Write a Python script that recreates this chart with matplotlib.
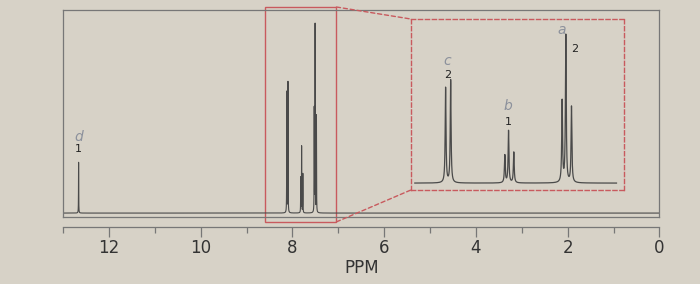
import numpy as np
import matplotlib.pyplot as plt
from matplotlib.patches import Rectangle, ConnectionPatch

# peak lines: chemical shift (ppm) and height
d_shift = [12.66]
d_height = [52]
c_shift = [8.122, 8.096]
c_height = [124, 134]
b_shift = [7.818, 7.799, 7.772]
b_height = [36, 68, 40]
a_shift = [7.524, 7.505, 7.476]
a_height = [106, 192, 99]

# handwritten letters and integrals written above each signal
group_names = ['d', 'c', 'b', 'a']
integrals = ['1', '2', '1', '2']

paper = '#d7d2c7'
ink = '#4a4a4a'
frame = '#777777'
red = '#c85a5e'
pencil = '#8c919c'

shifts = np.array(d_shift + c_shift + b_shift + a_shift)
heights = np.array(d_height + c_height + b_height + a_height)
hw = 0.0025  # lorentzian half width, ppm


def spectrum(x):
    y = np.zeros_like(x)
    for s, h in zip(shifts, heights):
        y += h / (1 + ((x - s) / hw) ** 2)
    return y


x = np.linspace(13.0, 0.0, 60000)
y = spectrum(x)

fig = plt.figure(figsize=(7, 2.84), dpi=100, facecolor=paper)
ax = fig.add_axes([0.090, 0.236, 0.852, 0.729], facecolor=paper)
ax.plot(x, y, color=ink, lw=0.8)
ax.set_xlim(13.0, 0.0)
ax.set_ylim(-4, 208)
ax.tick_params(bottom=False, labelbottom=False, left=False, labelleft=False)
for sp in ax.spines.values():
    sp.set_color(frame)
    sp.set_linewidth(0.9)

# separate ppm scale below the frame
sec = ax.secondary_xaxis(-0.048)
sec.set_xticks([12, 10, 8, 6, 4, 2, 0])
sec.set_xticks(range(1, 14, 2), minor=True)
sec.tick_params(which='major', length=7, width=0.9, color=frame, labelsize=12,
                labelcolor='#333333', pad=2)
sec.tick_params(which='minor', length=4, width=0.9, color=frame)
sec.spines['bottom'].set_color(frame)
sec.spines['bottom'].set_linewidth(0.9)
sec.set_xlabel('PPM', fontsize=12, color='#333333', labelpad=1)

# labels on the lone acid peak
ax.text(d_shift[0], 60, integrals[0], ha='center', va='bottom', fontsize=8, color='#222222')
ax.text(d_shift[0], 71, group_names[0], ha='center', va='bottom', fontsize=10,
        style='italic', color=pencil)

# red box around the aromatic region
box_left, box_right = 8.59, 7.04
ax.add_patch(Rectangle((box_right, -9), box_left - box_right, 220, fill=False,
                       ec=red, lw=1.0, clip_on=False))

# zoomed inset
axin = fig.add_axes([0.587, 0.331, 0.304, 0.602], facecolor=paper)
xi = np.linspace(8.28, 7.245, 8000)
axin.plot(xi, spectrum(xi), color=ink, lw=0.9)
axin.set_xlim(8.30, 7.208)
axin.set_ylim(-9, 214)
axin.set_xticks([])
axin.set_yticks([])
for sp in axin.spines.values():
    sp.set_color(red)
    sp.set_linestyle((0, (3, 2)))
    sp.set_linewidth(1.0)

axin.text(8.110, 135, integrals[1], ha='center', va='bottom', fontsize=8, color='#222222')
axin.text(8.113, 150, group_names[1], ha='center', va='bottom', fontsize=10,
          style='italic', color=pencil)
axin.text(7.799, 73, integrals[2], ha='center', va='bottom', fontsize=8, color='#222222')
axin.text(7.802, 92, group_names[2], ha='center', va='bottom', fontsize=10,
          style='italic', color=pencil)
axin.text(7.457, 168, integrals[3], ha='center', va='bottom', fontsize=8, color='#222222')
axin.text(7.527, 190, group_names[3], ha='center', va='bottom', fontsize=10,
          style='italic', color=pencil)

for ya, yb in [(211, 1), (-9, 0)]:
    con = ConnectionPatch(xyA=(box_right, ya), coordsA=ax.transData,
                          xyB=(0, yb), coordsB=axin.transAxes,
                          color=red, lw=1.0, linestyle=(0, (3, 2)))
    fig.add_artist(con)

fig.savefig('out.png', dpi=100, facecolor=paper)
